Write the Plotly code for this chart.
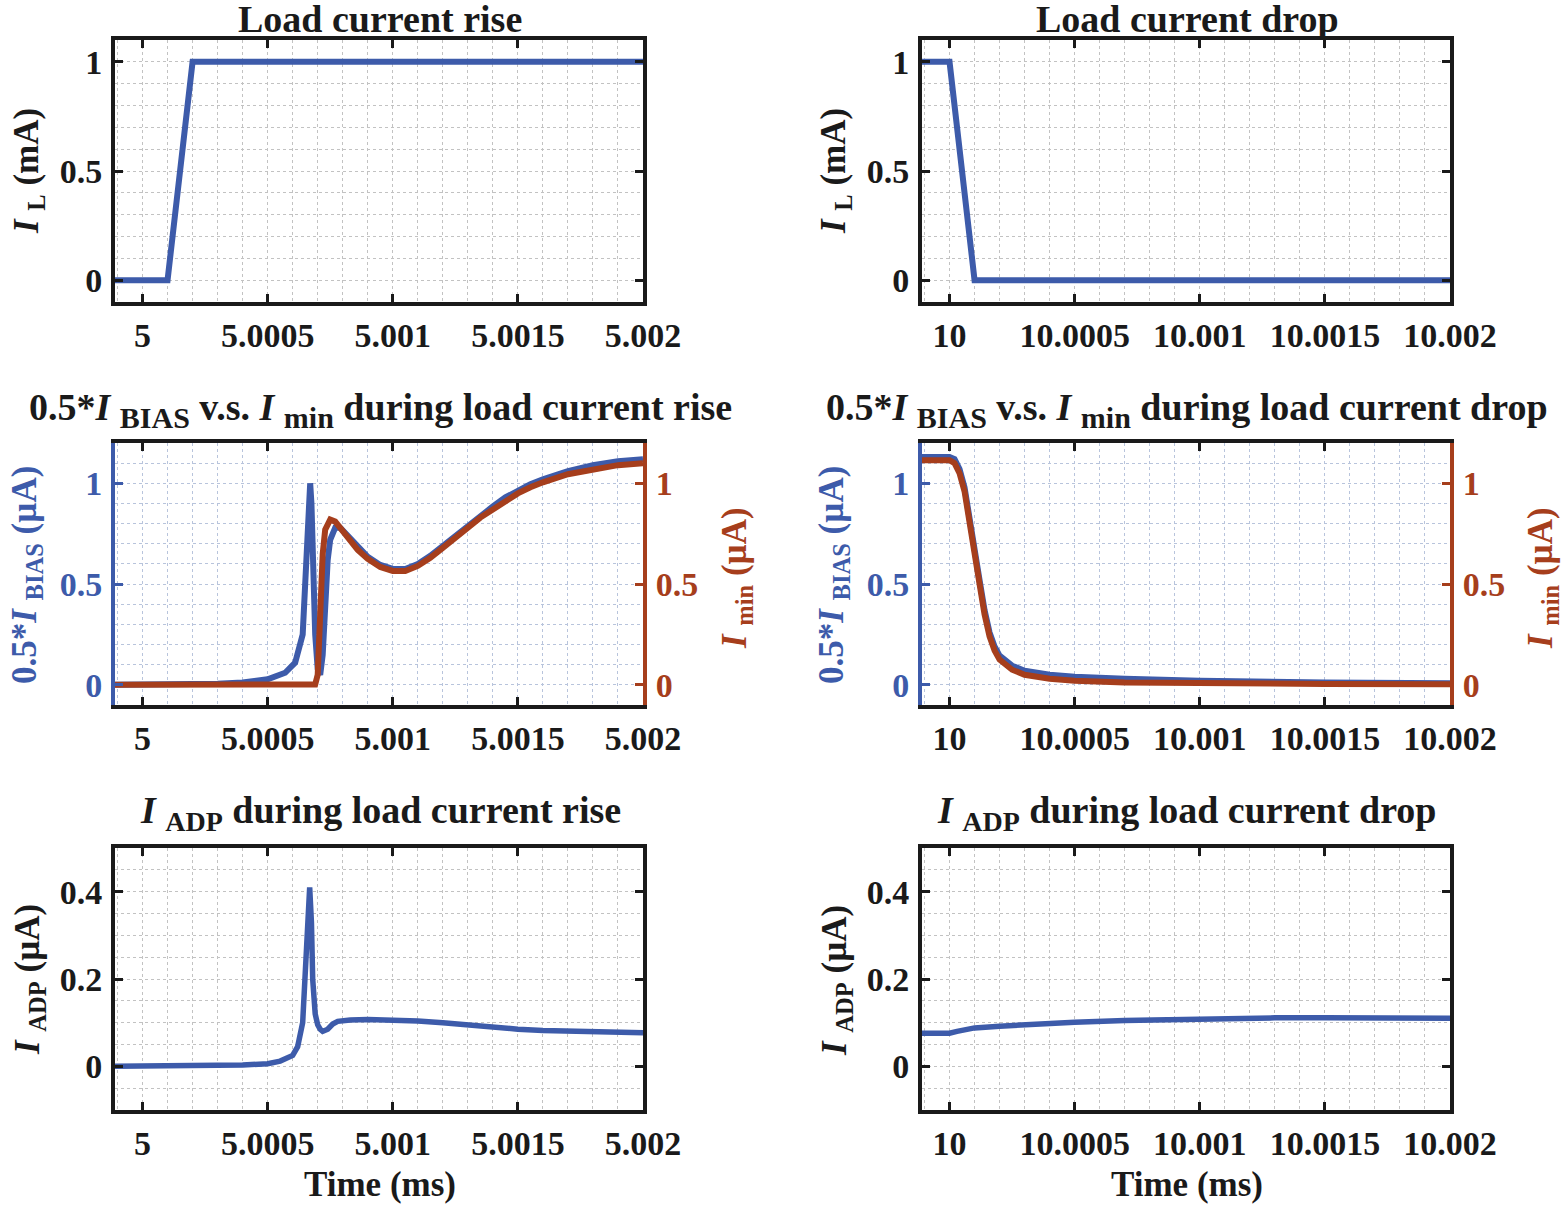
import plotly.graph_objects as go

W, H = 1567, 1206
FONT = "Liberation Serif"
BLUE = "#3D5BAA"
RED = "#A63E1C"
BLACK = "#1a1a1a"
GRID = "#c2c2c2"
GRID_MID = "#b8c4dc"

# ---------------- data ----------------
# Row 1: load current
t_rise_IL = [4.99989, 5.0001, 5.0002, 5.002]
IL_rise = [0, 0, 1, 1]
t_drop_IL = [9.99989, 10.0, 10.0001, 10.002]
IL_drop = [1, 1, 0, 0]

# Row 2: 0.5*I_BIAS (blue) and I_min (red) during rise
t_rise_bias = [4.99989, 5.0002, 5.0003, 5.0004, 5.0005, 5.00057, 5.00061, 5.00064, 5.00065,
               5.000665, 5.00067, 5.000675, 5.00068, 5.00069, 5.0007, 5.00071, 5.00072,
               5.00073, 5.00074, 5.00075, 5.00077, 5.00079, 5.00082, 5.00086, 5.0009,
               5.00095, 5.001, 5.00105, 5.0011, 5.00115, 5.0012, 5.00125, 5.0013, 5.00135,
               5.0014, 5.00145, 5.0015, 5.00155, 5.0016, 5.0017, 5.0018, 5.0019, 5.002]
bias_rise = [0, 0.002, 0.005, 0.012, 0.028, 0.06, 0.11, 0.25, 0.5,
             0.85, 1.0, 0.9, 0.55, 0.25, 0.08, 0.05, 0.15,
             0.4, 0.62, 0.72, 0.78, 0.78, 0.74, 0.68, 0.635,
             0.595, 0.575, 0.575, 0.6, 0.64, 0.69, 0.74, 0.79, 0.84,
             0.885, 0.93, 0.965, 0.995, 1.02, 1.06, 1.09, 1.11, 1.12]
t_rise_min = [4.99989, 5.0006, 5.00069, 5.0007, 5.000705, 5.00071, 5.00072, 5.00073,
              5.00075, 5.00077, 5.00079, 5.00082, 5.00086, 5.0009, 5.00095, 5.001,
              5.00105, 5.0011, 5.00115, 5.0012, 5.00125, 5.0013, 5.00135, 5.0014,
              5.00145, 5.0015, 5.00155, 5.0016, 5.0017, 5.0018, 5.0019, 5.002]
min_rise = [0, 0, 0.002, 0.05, 0.2, 0.4, 0.65, 0.77,
            0.82, 0.81, 0.78, 0.73, 0.67, 0.625, 0.585, 0.565,
            0.565, 0.59, 0.63, 0.68, 0.73, 0.78, 0.83, 0.87,
            0.91, 0.95, 0.98, 1.005, 1.045, 1.07, 1.09, 1.10]

# Row 2: during drop
t_drop_mid = [9.99989, 10.0, 10.00002, 10.00004, 10.00006, 10.00008, 10.0001, 10.00012,
              10.00014, 10.00016, 10.00018, 10.0002, 10.00025, 10.0003, 10.0004, 10.0005,
              10.0007, 10.001, 10.0015, 10.002]
bias_drop = [1.13, 1.13, 1.12, 1.07, 0.98, 0.84, 0.68, 0.52,
             0.37, 0.26, 0.19, 0.145, 0.095, 0.07, 0.05, 0.04,
             0.03, 0.02, 0.012, 0.008]
min_drop = [1.115, 1.115, 1.10, 1.05, 0.96, 0.82, 0.66, 0.50,
            0.35, 0.24, 0.17, 0.125, 0.075, 0.05, 0.03, 0.02,
            0.012, 0.007, 0.004, 0.003]

# Row 3: I_ADP
t_rise_adp = [4.99989, 5.0003, 5.0004, 5.0005, 5.00055, 5.0006, 5.00062, 5.00064, 5.00065,
              5.00066, 5.000668, 5.000675, 5.00068, 5.00069, 5.0007, 5.00071, 5.00072,
              5.00074, 5.00076, 5.00078, 5.00083, 5.0009, 5.001, 5.0011, 5.0012, 5.0013,
              5.0014, 5.0015, 5.0016, 5.0017, 5.0018, 5.0019, 5.002]
adp_rise = [0, 0.001, 0.003, 0.006, 0.012, 0.025, 0.045, 0.1, 0.2,
            0.34, 0.41, 0.33, 0.2, 0.12, 0.095, 0.085, 0.08,
            0.085, 0.097, 0.103, 0.106, 0.107, 0.107, 0.104, 0.1, 0.094,
            0.089, 0.085, 0.082, 0.08, 0.079, 0.078, 0.077]
t_drop_adp = [9.99989, 10.0, 10.00003, 10.00008, 10.0001, 10.0002, 10.0003, 10.0005,
              10.0007, 10.001, 10.0013, 10.0015, 10.0018, 10.002]
adp_drop = [0.076, 0.076, 0.08, 0.087, 0.088, 0.092, 0.096, 0.101,
            0.105, 0.109, 0.111, 0.111, 0.111, 0.11]

# tick labels
xt_rise = [5.0, 5.0005, 5.001, 5.0015, 5.002]
xt_rise_txt = ["5", "5.0005", "5.001", "5.0015", "5.002"]
xt_drop = [10.0, 10.0005, 10.001, 10.0015, 10.002]
xt_drop_txt = ["10", "10.0005", "10.001", "10.0015", "10.002"]
yt_IL = [0, 0.5, 1]
yt_IL_txt = ["0", "0.5", "1"]
yt_mid = [0, 0.5, 1]
yt_mid_txt = ["0", "0.5", "1"]
yt_adp = [0, 0.2, 0.4]
yt_adp_txt = ["0", "0.2", "0.4"]

# ---------------- layout geometry (pixels) ----------------
XL = [115 / W, 643 / W]
XR = [922 / W, 1450 / W]
Y1 = [1 - 302 / H, 1 - 40 / H]
Y2 = [1 - 705 / H, 1 - 443 / H]
Y3 = [1 - 1110 / H, 1 - 848 / H]

TICK_SIZE = 34


def tfont(color=BLACK, size=TICK_SIZE):
    return dict(family=FONT, size=size, color=color, weight="bold")


def xax(dom, rng, tv, tt, anchor, tick0, gridc):
    return dict(domain=dom, range=rng, anchor=anchor, tickmode="array", tickvals=tv, ticktext=tt,
                ticks="inside", ticklen=8, tickwidth=3, tickcolor=BLACK,
                showline=True, linecolor=BLACK, linewidth=4, mirror="ticks",
                showgrid=True, gridcolor=gridc, griddash="dot", gridwidth=1,
                minor=dict(tick0=tick0, dtick=0.0001, showgrid=True, gridcolor=gridc,
                           griddash="dot", gridwidth=1),
                zeroline=False, tickfont=tfont(), ticklabelstandoff=0,
                automargin=False, fixedrange=True)


def yax(dom, rng, tv, tt, anchor, mdt, gridc, color=BLACK, mirror="ticks"):
    return dict(domain=dom, range=rng, anchor=anchor, tickmode="array", tickvals=tv, ticktext=tt,
                ticks="inside", ticklen=8, tickwidth=3, tickcolor=color,
                showline=True, linecolor=color, linewidth=4, mirror=mirror,
                showgrid=True, gridcolor=gridc, griddash="dot", gridwidth=1,
                minor=dict(tick0=0, dtick=mdt, showgrid=True, gridcolor=gridc,
                           griddash="dot", gridwidth=1),
                zeroline=False, tickfont=tfont(color), ticklabelstandoff=2,
                automargin=False, fixedrange=True)


fig = go.Figure()

LW = 6
fig.add_trace(go.Scatter(x=t_rise_IL, y=IL_rise, xaxis="x", yaxis="y", mode="lines",
                         line=dict(color=BLUE, width=LW)))
fig.add_trace(go.Scatter(x=t_drop_IL, y=IL_drop, xaxis="x2", yaxis="y2", mode="lines",
                         line=dict(color=BLUE, width=LW)))
fig.add_trace(go.Scatter(x=t_rise_bias, y=bias_rise, xaxis="x3", yaxis="y3", mode="lines",
                         line=dict(color=BLUE, width=LW)))
fig.add_trace(go.Scatter(x=t_rise_min, y=min_rise, xaxis="x3", yaxis="y7", mode="lines",
                         line=dict(color=RED, width=LW)))
fig.add_trace(go.Scatter(x=t_drop_mid, y=bias_drop, xaxis="x4", yaxis="y4", mode="lines",
                         line=dict(color=BLUE, width=LW)))
fig.add_trace(go.Scatter(x=t_drop_mid, y=min_drop, xaxis="x4", yaxis="y8", mode="lines",
                         line=dict(color=RED, width=LW)))
fig.add_trace(go.Scatter(x=t_rise_adp, y=adp_rise, xaxis="x5", yaxis="y5", mode="lines",
                         line=dict(color=BLUE, width=5.5)))
fig.add_trace(go.Scatter(x=t_drop_adp, y=adp_drop, xaxis="x6", yaxis="y6", mode="lines",
                         line=dict(color=BLUE, width=5.5)))

RX_L = [4.99989, 5.002]
RX_R = [9.99989, 10.002]

layout = dict(
    width=W, height=H, margin=dict(l=0, r=0, t=0, b=0, autoexpand=False),
    paper_bgcolor="white", plot_bgcolor="white", showlegend=False,
    font=dict(family=FONT, color=BLACK),
    xaxis=xax(XL, RX_L, xt_rise, xt_rise_txt, "y", 5.0, GRID),
    xaxis2=xax(XR, RX_R, xt_drop, xt_drop_txt, "y2", 10.0, GRID),
    xaxis3=xax(XL, RX_L, xt_rise, xt_rise_txt, "y3", 5.0, GRID_MID),
    xaxis4=xax(XR, RX_R, xt_drop, xt_drop_txt, "y4", 10.0, GRID_MID),
    xaxis5=xax(XL, RX_L, xt_rise, xt_rise_txt, "y5", 5.0, GRID),
    xaxis6=xax(XR, RX_R, xt_drop, xt_drop_txt, "y6", 10.0, GRID),
    yaxis=yax(Y1, [-0.1, 1.1], yt_IL, yt_IL_txt, "x", 0.1, GRID),
    yaxis2=yax(Y1, [-0.1, 1.1], yt_IL, yt_IL_txt, "x2", 0.1, GRID),
    yaxis3=yax(Y2, [-0.1, 1.2], yt_mid, yt_mid_txt, "x3", 0.1, GRID_MID, BLUE, False),
    yaxis4=yax(Y2, [-0.1, 1.2], yt_mid, yt_mid_txt, "x4", 0.1, GRID_MID, BLUE, False),
    yaxis5=yax(Y3, [-0.1, 0.5], yt_adp, yt_adp_txt, "x5", 0.05, GRID),
    yaxis6=yax(Y3, [-0.1, 0.5], yt_adp, yt_adp_txt, "x6", 0.05, GRID),
)
y7 = yax(Y2, [-0.1, 1.2], yt_mid, yt_mid_txt, "x3", 0.1, GRID_MID, RED, False)
y7.update(overlaying="y3", side="right", showgrid=False, minor=dict(showgrid=False))
y8 = yax(Y2, [-0.1, 1.2], yt_mid, yt_mid_txt, "x4", 0.1, GRID_MID, RED, False)
y8.update(overlaying="y4", side="right", showgrid=False, minor=dict(showgrid=False))
layout["yaxis7"] = y7
layout["yaxis8"] = y8
fig.update_layout(**layout)


def ann(text, x, y, size=38, color=BLACK, angle=0, yanchor="middle"):
    fig.add_annotation(text=text, x=x / W, y=1 - y / H, xref="paper", yref="paper",
                       showarrow=False, xanchor="center", yanchor=yanchor,
                       textangle=angle, font=tfont(color, size))


def sub(s, size=30):
    return '<sub><span style="font-size:%dpx">%s</span></sub>' % (size, s)


# titles
ann("Load current rise", 380, -4, yanchor="top")
ann("Load current drop", 1187, -4, yanchor="top")
mid_title = "0.5*<i>I</i> " + sub("BIAS") + " v.s. <i>I</i> " + sub("min") + " during load current "
ann(mid_title + "rise", 380, 410)
ann(mid_title + "drop", 1187, 410)
ann("<i>I</i> " + sub("ADP", 28) + " during load current rise", 380, 813)
ann("<i>I</i> " + sub("ADP", 28) + " during load current drop", 1187, 813)

# y-axis titles
ann("<i>I</i> <sub>L</sub> (mA)", 29, 171, 35, BLACK, -90)
ann("<i>I</i> <sub>L</sub> (mA)", 836, 171, 35, BLACK, -90)
ann("0.5*<i>I</i> <sub>BIAS</sub> (µA)", 26, 575, 35, BLUE, -90)
ann("0.5*<i>I</i> <sub>BIAS</sub> (µA)", 833, 575, 35, BLUE, -90)
ann("<i>I</i> <sub>min</sub> (µA)", 737, 578, 35, RED, -90)
ann("<i>I</i> <sub>min</sub> (µA)", 1543, 578, 35, RED, -90)
ann("<i>I</i> <sub>ADP</sub> (µA)", 29, 980, 35, BLACK, -90)
ann("<i>I</i> <sub>ADP</sub> (µA)", 836, 980, 35, BLACK, -90)

# x-axis titles
ann("Time (ms)", 380, 1206, 35, yanchor="bottom")
ann("Time (ms)", 1187, 1206, 35, yanchor="bottom")

fig.write_html("out.html")
